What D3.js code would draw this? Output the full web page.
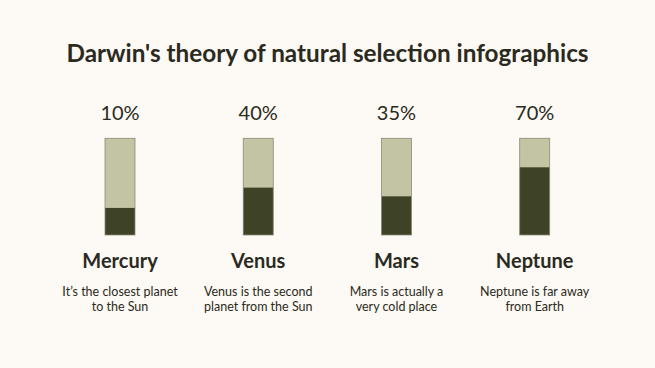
<!DOCTYPE html>
<html>
<head>
<meta charset="utf-8">
<script src="https://cdn.jsdelivr.net/npm/d3@7"></script>
<style>
  html, body { margin: 0; padding: 0; background: #fdf9f4; }
  svg { display: block; }
</style>
</head>
<body>
<div id="chart"></div>
<script>
// chart data
const title = "Darwin's theory of natural selection infographics";
const planets = ["Mercury", "Venus", "Mars", "Neptune"];
const percentLabels = ["10%", "40%", "35%", "70%"];
// share of each bar that is filled, as drawn in the picture
const filled = [0.28, 0.49, 0.40, 0.70];
const descriptions = [
  ["It\u2019s the closest planet", "to the Sun"],
  ["Venus is the second", "planet from the Sun"],
  ["Mars is actually a", "very cold place"],
  ["Neptune is far away", "from Earth"]
];

const width = 655, height = 368;
const textColor = "#2b2a21";

const svg = d3.select("#chart")
  .append("svg")
  .attr("width", width)
  .attr("height", height);

svg.append("rect")
  .attr("width", width)
  .attr("height", height)
  .attr("fill", "#fdf9f4");

svg.append("text")
  .attr("x", 327.5)
  .attr("y", 62)
  .attr("text-anchor", "middle")
  .attr("font-family", "Lato")
  .attr("font-weight", 700)
  .attr("font-size", 24.3)
  .attr("fill", textColor)
  .text(title);

// one column per planet
const x = d3.scalePoint()
  .domain(planets)
  .range([120, 534.7]);

const barWidth = 30;
const barTop = 138.3, barBottom = 235;
const y = d3.scaleLinear()
  .domain([0, 1])
  .range([barBottom, barTop]);

const cols = svg.selectAll("g.col")
  .data(planets)
  .join("g")
  .attr("class", "col")
  .attr("transform", d => `translate(${x(d)},0)`);

cols.append("text")
  .attr("y", 120)
  .attr("text-anchor", "middle")
  .attr("font-family", "Lato")
  .attr("font-size", 20)
  .attr("fill", textColor)
  .text((d, i) => percentLabels[i]);

cols.append("rect")
  .attr("x", -barWidth / 2)
  .attr("y", y(1))
  .attr("width", barWidth)
  .attr("height", y(0) - y(1))
  .attr("fill", "#c3c4a4");

cols.append("rect")
  .attr("x", -barWidth / 2)
  .attr("y", (d, i) => y(filled[i]))
  .attr("width", barWidth)
  .attr("height", (d, i) => y(0) - y(filled[i]))
  .attr("fill", "#3e4325");

cols.append("rect")
  .attr("x", -barWidth / 2)
  .attr("y", y(1))
  .attr("width", barWidth)
  .attr("height", y(0) - y(1))
  .attr("fill", "none")
  .attr("stroke", "#8a8b78")
  .attr("stroke-width", 0.8);

cols.append("text")
  .attr("y", 267.5)
  .attr("text-anchor", "middle")
  .attr("font-family", "Lato")
  .attr("font-weight", 700)
  .attr("font-size", 20)
  .attr("fill", textColor)
  .text(d => d);

cols.each(function(d, i) {
  d3.select(this).selectAll("text.desc")
    .data(descriptions[i])
    .join("text")
    .attr("class", "desc")
    .attr("y", (t, j) => 296 + j * 15)
    .attr("text-anchor", "middle")
    .attr("font-family", "Lato")
    .attr("font-size", 12.5)
    .attr("fill", textColor)
    .text(t => t);
});
</script>
</body>
</html>
